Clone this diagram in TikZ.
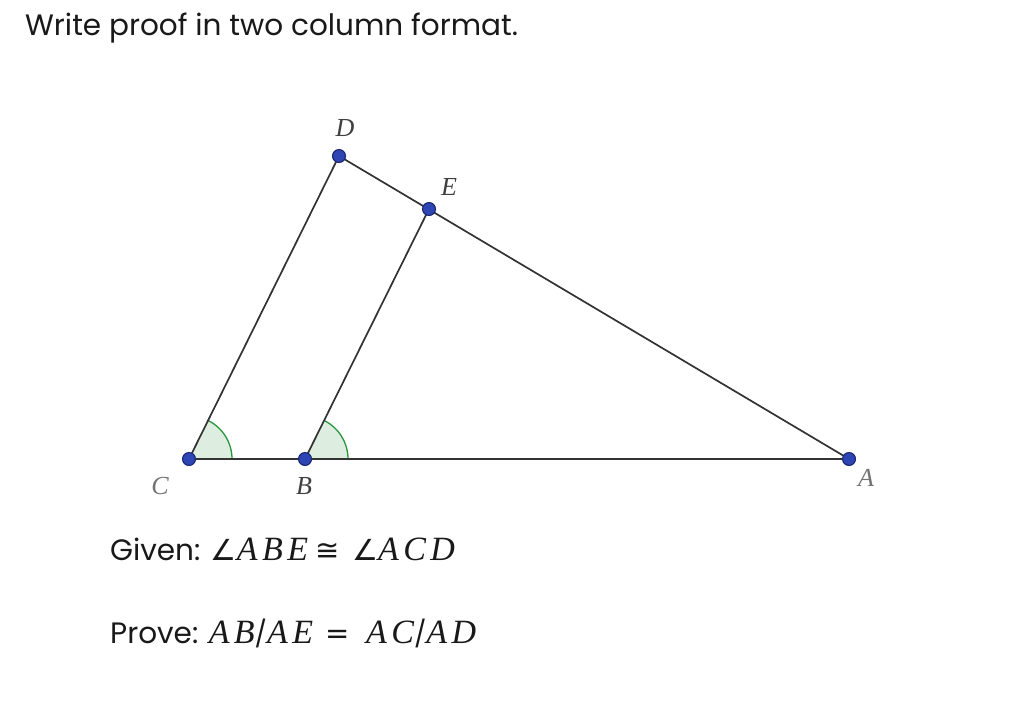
\documentclass[tikz,border=0pt]{standalone}
\usepackage{fontspec}
\setmainfont{Poppins}
\newfontfamily\geofont{Liberation Serif}[LetterSpace=13]
\newfontfamily\lblfont{Liberation Serif}
\newfontfamily\symfont{DejaVu Sans}
\newcommand{\gv}[1]{{\geofont\itshape\fontsize{34}{36}\selectfont #1}}
\newcommand{\sy}[1]{{\symfont\fontsize{29}{32}\selectfont #1}}
\newcommand{\slashmark}{{\fontsize{26}{30}\selectfont /}}
\definecolor{dotblue}{RGB}{45,70,180}
\definecolor{dotrim}{RGB}{25,35,110}
\definecolor{markfill}{RGB}{221,237,224}
\definecolor{markline}{RGB}{40,150,60}

\begin{document}
\begin{tikzpicture}[x=1pt, y=-1pt,
  pt/.style={circle, fill=dotblue, draw=dotrim, line width=1pt, inner sep=0pt, minimum size=13pt},
  lbl/.style={font=\lblfont\itshape\fontsize{26}{26}\selectfont, text=black!75},
  txt/.style={anchor=base west, inner sep=0pt, font=\fontsize{29.5}{34}\selectfont, text=black!90}]
  \useasboundingbox[fill=white] (0,0) rectangle (1024,716);

  \node[txt] (title) at (25,35) {Write proof in two column format.};

  \coordinate (C) at (189,459);
  \coordinate (B) at (305,459);
  \coordinate (A) at (849,459);
  \coordinate (D) at (339,156);
  \coordinate (E) at (429,209);

  % angle marks
  \fill[markfill] (C) -- ++(0:43) arc[start angle=0, end angle=-64, radius=43] -- cycle;
  \fill[markfill] (B) -- ++(0:43) arc[start angle=0, end angle=-64, radius=43] -- cycle;
  \draw[markline, line width=1.3pt] (C) ++(0:43) arc[start angle=0, end angle=-64, radius=43];
  \draw[markline, line width=1.3pt] (B) ++(0:43) arc[start angle=0, end angle=-64, radius=43];

  \draw[black!80, line width=1.7pt] (C) -- (A) -- (D) -- cycle;
  \draw[black!80, line width=1.7pt] (B) -- (E);

  \foreach \p in {A,B,C,D,E}
    \node[pt] at (\p) {};

  \node[lbl] (labD) at (345,128) {D};
  \node[lbl] (labE) at (449,187) {E};
  \node[lbl, text=black!55] (labC) at (160,486) {C};
  \node[lbl] (labB) at (304,486) {B};
  \node[lbl, text=black!55] (labA) at (866,478) {A};

  \node[txt] (given) at (110,560) {Given: \sy{∠}\gv{ABE} \sy{≅}\hspace{12pt}\sy{∠}\gv{ACD}};
  \node[txt] (prove) at (110,643) {Prove: \gv{AB}\slashmark\gv{AE}\hspace{5pt} \sy{=}\hspace{8pt} \gv{AC}\slashmark\gv{AD}};
\end{tikzpicture}
\end{document}
